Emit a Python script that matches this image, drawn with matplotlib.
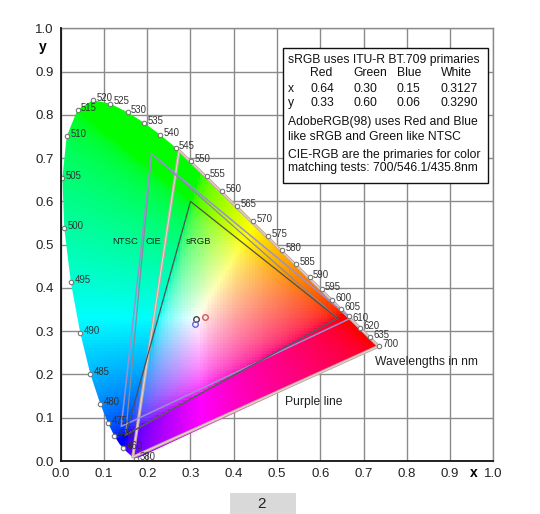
import numpy as np
import matplotlib
matplotlib.use('Agg')
import matplotlib.pyplot as plt
from matplotlib.path import Path
from matplotlib.patches import PathPatch, Rectangle

plt.rcParams['font.family'] = ['Liberation Sans', 'DejaVu Sans']

# spectral locus (CIE 1931, 2 deg), wavelength in nm and chromaticity x, y
locus_nm = [380, 385, 390, 395, 400, 405, 410, 415, 420, 425, 430, 435, 440, 445,
            450, 455, 460, 465, 470, 475, 480, 485, 490, 495, 500, 505, 510, 515,
            520, 525, 530, 535, 540, 545, 550, 555, 560, 565, 570, 575, 580, 585,
            590, 595, 600, 605, 610, 615, 620, 625, 630, 635, 640, 645, 650, 655,
            660, 665, 670, 680, 690, 700]
locus_x = [0.1741, 0.1740, 0.1738, 0.1736, 0.1733, 0.1730, 0.1726, 0.1721, 0.1714,
           0.1703, 0.1689, 0.1669, 0.1644, 0.1611, 0.1566, 0.1510, 0.1440, 0.1355,
           0.1241, 0.1096, 0.0913, 0.0687, 0.0454, 0.0235, 0.0082, 0.0039, 0.0139,
           0.0389, 0.0743, 0.1142, 0.1547, 0.1929, 0.2296, 0.2658, 0.3016, 0.3373,
           0.3731, 0.4087, 0.4441, 0.4788, 0.5125, 0.5448, 0.5752, 0.6029, 0.6270,
           0.6482, 0.6658, 0.6801, 0.6915, 0.7006, 0.7079, 0.7140, 0.7190, 0.7230,
           0.7260, 0.7283, 0.7300, 0.7311, 0.7320, 0.7334, 0.7344, 0.7347]
locus_y = [0.0050, 0.0050, 0.0049, 0.0049, 0.0048, 0.0048, 0.0048, 0.0048, 0.0051,
           0.0058, 0.0069, 0.0086, 0.0109, 0.0138, 0.0177, 0.0227, 0.0297, 0.0399,
           0.0578, 0.0868, 0.1327, 0.2007, 0.2950, 0.4127, 0.5384, 0.6548, 0.7502,
           0.8120, 0.8338, 0.8262, 0.8059, 0.7816, 0.7543, 0.7243, 0.6923, 0.6589,
           0.6245, 0.5896, 0.5547, 0.5202, 0.4866, 0.4544, 0.4242, 0.3965, 0.3725,
           0.3514, 0.3340, 0.3197, 0.3083, 0.2993, 0.2920, 0.2859, 0.2809, 0.2770,
           0.2740, 0.2717, 0.2700, 0.2689, 0.2680, 0.2666, 0.2656, 0.2653]

# wavelengths that get a marker and a label
marked_nm = [380, 460, 470, 475, 480, 485, 490, 495, 500, 505, 510, 515, 520, 525,
             530, 535, 540, 545, 550, 555, 560, 565, 570, 575, 580, 585, 590, 595,
             600, 605, 610, 620, 635, 700]

# primaries: red, green, blue
srgb_x = [0.64, 0.30, 0.15]
srgb_y = [0.33, 0.60, 0.06]
ntsc_x = [0.67, 0.21, 0.14]
ntsc_y = [0.33, 0.71, 0.08]
adobe_x = [0.64, 0.21, 0.15]
adobe_y = [0.33, 0.71, 0.06]
cie_x = [0.7347, 0.2738, 0.1666]
cie_y = [0.2653, 0.7174, 0.0089]

# white points: D65, illuminant C, equal energy E
white_x = [0.3127, 0.3101, 0.3333]
white_y = [0.3290, 0.3162, 0.3333]
white_col = ['#444444', '#6666dd', '#dd5555']

fig = plt.figure(figsize=(5.4, 5.14), dpi=100)
ax = fig.add_axes([0.1124, 0.1031, 0.8011, 0.8418])

# colour field inside the locus
gx, gy = np.meshgrid(np.linspace(0, 0.8, 120), np.linspace(0, 0.9, 135))
gys = np.maximum(gy, 1e-3)
XYZ = np.stack([gx / gys, np.ones_like(gx), (1 - gx - gy) / gys])
M = np.array([[3.2406, -1.5372, -0.4986],
              [-0.9689, 1.8758, 0.0415],
              [0.0557, -0.2040, 1.0570]])
rgb = np.einsum('ij,jkl->kli', M, XYZ)
rgb = np.clip(rgb, 0, None)
rgb /= np.maximum(rgb.max(axis=2, keepdims=True), 1e-6)
rgb = np.clip(rgb, 0, 1)
rgb = np.where(rgb <= 0.0031308, 12.92 * rgb, 1.055 * rgb ** (1 / 2.4) - 0.055)

img = ax.imshow(rgb, origin='lower', extent=(0, 0.8, 0, 0.9), interpolation='nearest',
                zorder=1, aspect='auto')
poly = PathPatch(Path(np.column_stack([locus_x + [locus_x[0]], locus_y + [locus_y[0]]])),
                 facecolor='none', edgecolor='none', transform=ax.transData)
ax.add_patch(poly)
img.set_clip_path(poly)


def tri(xs, ys, **kw):
    ax.plot(xs + [xs[0]], ys + [ys[0]], zorder=3, **kw)


# CIE-RGB as a light double line
tri(cie_x, cie_y, color='#c4a8a0', lw=2.2)
tri(cie_x, cie_y, color='white', lw=0.7, alpha=0.55)
tri(adobe_x, adobe_y, color='#8a8a9a', lw=0.9)
tri(ntsc_x, ntsc_y, color='#9a90d4', lw=1.1)
tri(srgb_x, srgb_y, color='#505050', lw=0.9)

for wx, wy, c in zip(white_x, white_y, white_col):
    ax.plot(wx, wy, 'o', ms=4, mfc='none', mec=c, mew=1.0, zorder=5)

# labelled wavelengths
for nm in marked_nm:
    i = locus_nm.index(nm)
    ax.plot(locus_x[i], locus_y[i], 'o', ms=3.2, mfc='white', mec='#777777', mew=0.8, zorder=6)
    off = (3.0, -0.8) if nm == 610 else (2.5, 1.5)
    ax.annotate(str(nm), (locus_x[i], locus_y[i]), xytext=off,
                textcoords='offset points', fontsize=6.9, color='#333333',
                ha='left', va='center', zorder=7)

ax.text(0.149, 0.508, 'NTSC', fontsize=6.8, ha='center', va='center', color='#222222', zorder=7)
ax.text(0.214, 0.508, 'CIE', fontsize=6.8, ha='center', va='center', color='#222222', zorder=7)
ax.text(0.318, 0.508, 'sRGB', fontsize=6.8, ha='center', va='center', color='#222222', zorder=7)
ax.text(0.7266, 0.2295, 'Wavelengths in nm', fontsize=8.7, ha='left', va='center', color='#222222', zorder=7)
ax.text(0.518, 0.137, 'Purple line', fontsize=8.7, ha='left', va='center', color='#222222', zorder=7)

# info box
ax.add_patch(Rectangle((0.513, 0.642), 0.4755, 0.312, facecolor='white',
                       edgecolor='#111111', lw=1.0, zorder=8))
fs = 8.7
tk = dict(fontsize=fs, ha='left', va='center', color='#111111', zorder=9)
ax.text(0.5245, 0.9267, 'sRGB uses ITU-R BT.709 primaries', **tk)
cols = [0.5774, 0.6764, 0.7767, 0.8784]
for cx, name in zip(cols, ['Red', 'Green', 'Blue', 'White']):
    ax.text(cx, 0.896, name, **tk)
ax.text(0.5245, 0.8597, 'x', **tk)
ax.text(0.5245, 0.8267, 'y', **tk)
for cx, vx, vy in zip(cols[:3], srgb_x, srgb_y):
    ax.text(cx, 0.8597, f'{vx:.2f}', **tk)
    ax.text(cx, 0.8267, f'{vy:.2f}', **tk)
ax.text(cols[3], 0.8597, f'{white_x[0]:.4f}', **tk)
ax.text(cols[3], 0.8267, f'{white_y[0]:.4f}', **tk)
ax.text(0.5245, 0.7841, 'AdobeRGB(98) uses Red and Blue', **tk)
ax.text(0.5245, 0.7495, 'like sRGB and Green like NTSC', **tk)
ax.text(0.5245, 0.7072, 'CIE-RGB are the primaries for color', **tk)
ax.text(0.5245, 0.6765, 'matching tests: 700/546.1/435.8nm', **tk)

# axes
ticks = np.round(np.arange(0, 1.01, 0.1), 1)
ax.set_xlim(0, 1)
ax.set_ylim(0, 1)
ax.set_xticks(ticks)
ax.set_yticks(ticks)
ax.set_xticklabels([f'{t:.1f}' for t in ticks])
ax.set_yticklabels([f'{t:.1f}' for t in ticks])
ax.tick_params(length=0, pad=5, labelsize=9.5, labelcolor='#222222')
ax.set_axisbelow(True)
ax.grid(True, color='#8a8a8a', lw=1.0, zorder=0)
for s in ['top', 'right']:
    ax.spines[s].set_color('#8a8a8a')
    ax.spines[s].set_linewidth(1.0)
for s in ['left', 'bottom']:
    ax.spines[s].set_color('#111111')
    ax.spines[s].set_linewidth(1.3)
    ax.spines[s].set_zorder(10)

ax.text(-0.041, 0.957, 'y', fontsize=10, fontweight='bold', ha='center', va='center', clip_on=False)
ax.text(0.954, -0.027, 'x', fontsize=10, fontweight='bold', ha='center', va='center', clip_on=False)

# page number box
fig.patches.append(Rectangle((0.426, 0.0), 0.122, 0.0415, transform=fig.transFigure,
                             facecolor='#d9d9d9', edgecolor='none'))
fig.text(0.485, 0.0185, '2', fontsize=11, ha='center', va='center', color='#222222')

fig.savefig('out.png', dpi=100)
